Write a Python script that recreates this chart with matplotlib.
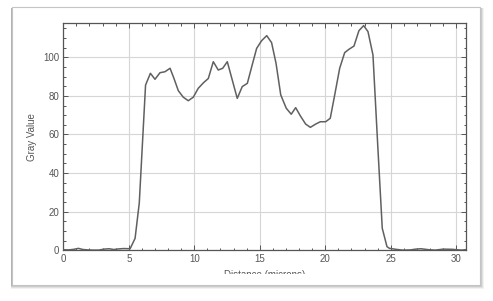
import matplotlib
matplotlib.use("Agg")
import matplotlib.pyplot as plt
from matplotlib.patches import Rectangle
from matplotlib.ticker import MultipleLocator

distance = [0.0, 0.4, 0.8, 1.15, 1.5, 1.9, 2.3, 2.7, 3.1, 3.5, 3.85, 4.2, 4.6, 5.1,
            5.48, 5.8, 6.28, 6.65, 7.0, 7.38, 7.76, 8.15, 8.45, 8.78, 9.16, 9.54,
            9.92, 10.3, 10.7, 11.07, 11.45, 11.83, 12.17, 12.52, 12.9, 13.28, 13.66,
            14.05, 14.38, 14.76, 15.14, 15.53, 15.9, 16.24, 16.6, 17.02, 17.4, 17.74,
            18.1, 18.5, 18.86, 19.27, 19.62, 20.03, 20.38, 20.72, 21.1, 21.48, 21.8,
            22.19, 22.57, 22.93, 23.26, 23.64, 24.0, 24.35, 24.71, 24.9, 25.4, 25.9,
            26.5, 26.9, 27.3, 27.9, 28.4, 29.0, 29.7, 30.4, 30.7]
gray = [0.3, 0.2, 0.5, 1.0, 0.4, 0.2, 0.1, 0.1, 0.6, 0.8, 0.4, 0.7, 0.9, 0.8,
        6.2, 24.5, 85.6, 91.7, 88.6, 92.0, 92.5, 94.3, 89.0, 82.7, 79.3, 77.5,
        79.3, 83.9, 86.8, 89.0, 97.7, 93.4, 94.3, 97.7, 88.2, 78.7, 84.8,
        86.5, 95.0, 104.6, 108.6, 111.2, 107.6, 96.9, 80.5, 73.6, 70.5, 73.9,
        69.6, 65.4, 63.7, 65.4, 66.6, 66.6, 68.4, 80.5, 94.3, 102.4, 104.1,
        105.8, 113.8, 116.4, 113.3, 101.2, 55.0, 11.4, 1.9, 1.0, 0.5, 0.1,
        0.2, 0.6, 0.8, 0.3, 0.1, 0.6, 0.5, 0.1, 0.3]
x_ticks = [0, 5, 10, 15, 20, 25, 30]
y_ticks = [0, 20, 40, 60, 80, 100]
x_label = "Distance (microns)"
y_label = "Gray Value"

W, H = 493, 301
fig = plt.figure(figsize=(W / 100, H / 100), dpi=100)
fig.patch.set_facecolor("white")

def fx(px):
    return px / W

def fy(py):
    return 1 - py / H

# card shadow (soft)
card_l, card_t, card_r, card_b = 12, 7, 480, 285
for i, a in enumerate([0.08, 0.12, 0.16, 0.22]):
    off = 4 - i
    fig.patches.append(Rectangle((fx(card_l - 1), fy(card_b + off)),
                                 fx(card_r - card_l + 1 + off), (card_b - card_t + off - 1) / H,
                                 transform=fig.transFigure, facecolor="#606060",
                                 alpha=a, edgecolor="none", zorder=0))
fig.patches.append(Rectangle((fx(card_l), fy(card_b)), fx(card_r - card_l),
                             (card_b - card_t) / H, transform=fig.transFigure,
                             facecolor="white", edgecolor="#c4c4c4", lw=0.8, zorder=1))

ax_l, ax_t, ax_r, ax_b = 63.3, 23.3, 465.7, 250.3
ax = fig.add_axes([fx(ax_l), fy(ax_b), fx(ax_r - ax_l), (ax_b - ax_t) / H])
ax.set_facecolor("white")
ax.set_zorder(2)
ax.plot(distance, gray, color="#606060", lw=1.1, zorder=3)
ax.set_xlim(0, 30.72)
ax.set_ylim(0, 117.6)
ax.set_xticks(x_ticks)
ax.set_yticks(y_ticks)
ax.xaxis.set_minor_locator(MultipleLocator(1))
ax.yaxis.set_minor_locator(MultipleLocator(5))
ax.grid(True, which="major", color="#d6d6d6", lw=0.8, zorder=1)
ax.tick_params(which="both", direction="in", top=True, right=True, colors="#555555",
               labelsize=7, labelcolor="#555555", width=0.7)
ax.tick_params(which="major", length=3.5, pad=3)
ax.tick_params(which="minor", length=1.8)
for sp in ax.spines.values():
    sp.set_color("#555555")
    sp.set_linewidth(0.9)
for lab in ax.get_xticklabels() + ax.get_yticklabels():
    lab.set_fontfamily("Liberation Sans")

ax.set_ylabel(y_label, fontsize=7, color="#555555", family="Liberation Sans", labelpad=4)

# x label, partially clipped by the crop of the screenshot
clip = Rectangle((0, fy(273.5)), 1, fy(0) - fy(273.5), transform=fig.transFigure,
                 facecolor="none", edgecolor="none")
t = fig.text(fx((ax_l + ax_r) / 2), fy(269.5), x_label, ha="center", va="top",
             fontsize=7, color="#555555", family="Liberation Sans", zorder=5)
t.set_clip_path(clip)
t.set_clip_on(True)

fig.savefig("out.png", dpi=100)
